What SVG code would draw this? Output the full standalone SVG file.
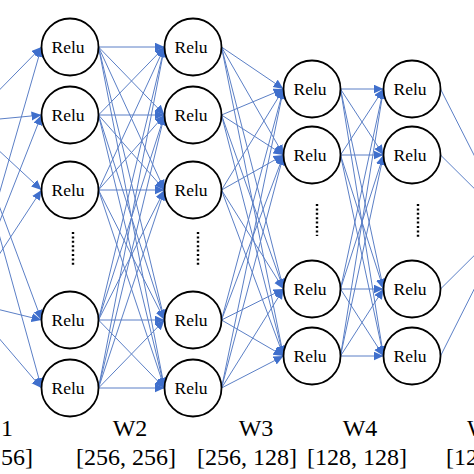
<svg xmlns="http://www.w3.org/2000/svg" width="474" height="474" viewBox="0 0 474 474">
<style>
.node circle{fill:#fff;stroke:#000;stroke-width:1.8}
.conn line{stroke:#5b7fc6;stroke-width:1}
.arr{marker-end:url(#ah)}
.dots line{stroke:#000;stroke-width:2.4;stroke-dasharray:2 2.4}
</style>
<defs>
<marker id="ah" markerUnits="userSpaceOnUse" markerWidth="12" markerHeight="10" refX="10" refY="4.5" orient="auto">
<path d="M0,0 L10,4.5 L0,9 Z" fill="#3f6fcc"/>
</marker>
</defs>
<rect width="474" height="474" fill="#fff"/>
<g id="connectors" class="conn">
<line class="arr" x1="-32" y1="122" x2="41.5" y2="47"/>
<line class="arr" x1="-32" y1="122" x2="41.5" y2="115"/>
<line class="arr" x1="-32" y1="122" x2="41.5" y2="190"/>
<line class="arr" x1="-32" y1="122" x2="41.5" y2="320"/>
<line class="arr" x1="-32" y1="122" x2="41.5" y2="388"/>
<line class="arr" x1="-32" y1="302" x2="41.5" y2="47"/>
<line class="arr" x1="-32" y1="302" x2="41.5" y2="115"/>
<line class="arr" x1="-32" y1="302" x2="41.5" y2="190"/>
<line class="arr" x1="-32" y1="302" x2="41.5" y2="320"/>
<line class="arr" x1="-32" y1="302" x2="41.5" y2="388"/>
<line class="arr" x1="98.5" y1="47" x2="164.5" y2="47"/>
<line class="arr" x1="98.5" y1="47" x2="164.5" y2="115"/>
<line class="arr" x1="98.5" y1="47" x2="164.5" y2="190"/>
<line class="arr" x1="98.5" y1="47" x2="164.5" y2="320"/>
<line class="arr" x1="98.5" y1="47" x2="164.5" y2="388"/>
<line class="arr" x1="98.5" y1="115" x2="164.5" y2="47"/>
<line class="arr" x1="98.5" y1="115" x2="164.5" y2="115"/>
<line class="arr" x1="98.5" y1="115" x2="164.5" y2="190"/>
<line class="arr" x1="98.5" y1="115" x2="164.5" y2="320"/>
<line class="arr" x1="98.5" y1="115" x2="164.5" y2="388"/>
<line class="arr" x1="98.5" y1="190" x2="164.5" y2="47"/>
<line class="arr" x1="98.5" y1="190" x2="164.5" y2="115"/>
<line class="arr" x1="98.5" y1="190" x2="164.5" y2="190"/>
<line class="arr" x1="98.5" y1="190" x2="164.5" y2="320"/>
<line class="arr" x1="98.5" y1="190" x2="164.5" y2="388"/>
<line class="arr" x1="98.5" y1="320" x2="164.5" y2="47"/>
<line class="arr" x1="98.5" y1="320" x2="164.5" y2="115"/>
<line class="arr" x1="98.5" y1="320" x2="164.5" y2="190"/>
<line class="arr" x1="98.5" y1="320" x2="164.5" y2="320"/>
<line class="arr" x1="98.5" y1="320" x2="164.5" y2="388"/>
<line class="arr" x1="98.5" y1="388" x2="164.5" y2="47"/>
<line class="arr" x1="98.5" y1="388" x2="164.5" y2="115"/>
<line class="arr" x1="98.5" y1="388" x2="164.5" y2="190"/>
<line class="arr" x1="98.5" y1="388" x2="164.5" y2="320"/>
<line class="arr" x1="98.5" y1="388" x2="164.5" y2="388"/>
<line class="arr" x1="221.5" y1="47" x2="283.5" y2="89"/>
<line class="arr" x1="221.5" y1="47" x2="283.5" y2="155"/>
<line class="arr" x1="221.5" y1="47" x2="283.5" y2="289"/>
<line class="arr" x1="221.5" y1="47" x2="283.5" y2="356"/>
<line class="arr" x1="221.5" y1="115" x2="283.5" y2="89"/>
<line class="arr" x1="221.5" y1="115" x2="283.5" y2="155"/>
<line class="arr" x1="221.5" y1="115" x2="283.5" y2="289"/>
<line class="arr" x1="221.5" y1="115" x2="283.5" y2="356"/>
<line class="arr" x1="221.5" y1="190" x2="283.5" y2="89"/>
<line class="arr" x1="221.5" y1="190" x2="283.5" y2="155"/>
<line class="arr" x1="221.5" y1="190" x2="283.5" y2="289"/>
<line class="arr" x1="221.5" y1="190" x2="283.5" y2="356"/>
<line class="arr" x1="221.5" y1="320" x2="283.5" y2="89"/>
<line class="arr" x1="221.5" y1="320" x2="283.5" y2="155"/>
<line class="arr" x1="221.5" y1="320" x2="283.5" y2="289"/>
<line class="arr" x1="221.5" y1="320" x2="283.5" y2="356"/>
<line class="arr" x1="221.5" y1="388" x2="283.5" y2="89"/>
<line class="arr" x1="221.5" y1="388" x2="283.5" y2="155"/>
<line class="arr" x1="221.5" y1="388" x2="283.5" y2="289"/>
<line class="arr" x1="221.5" y1="388" x2="283.5" y2="356"/>
<line class="arr" x1="340.5" y1="89" x2="383.5" y2="89"/>
<line class="arr" x1="340.5" y1="89" x2="383.5" y2="155"/>
<line class="arr" x1="340.5" y1="89" x2="383.5" y2="289"/>
<line class="arr" x1="340.5" y1="89" x2="383.5" y2="356"/>
<line class="arr" x1="340.5" y1="155" x2="383.5" y2="89"/>
<line class="arr" x1="340.5" y1="155" x2="383.5" y2="155"/>
<line class="arr" x1="340.5" y1="155" x2="383.5" y2="289"/>
<line class="arr" x1="340.5" y1="155" x2="383.5" y2="356"/>
<line class="arr" x1="340.5" y1="289" x2="383.5" y2="89"/>
<line class="arr" x1="340.5" y1="289" x2="383.5" y2="155"/>
<line class="arr" x1="340.5" y1="289" x2="383.5" y2="289"/>
<line class="arr" x1="340.5" y1="289" x2="383.5" y2="356"/>
<line class="arr" x1="340.5" y1="356" x2="383.5" y2="89"/>
<line class="arr" x1="340.5" y1="356" x2="383.5" y2="155"/>
<line class="arr" x1="340.5" y1="356" x2="383.5" y2="289"/>
<line class="arr" x1="340.5" y1="356" x2="383.5" y2="356"/>
<line x1="440.5" y1="89" x2="508" y2="222"/>
<line x1="440.5" y1="155" x2="508" y2="222"/>
<line x1="440.5" y1="289" x2="508" y2="222"/>
<line x1="440.5" y1="356" x2="508" y2="222"/>
</g>
<g font-family="'Liberation Serif', 'Times New Roman', serif" font-size="17.5" text-anchor="middle" fill="#000">
<g id="layer1">
<g id="n1_1" class="node"><circle cx="70" cy="47" r="28.5"/><text x="68" y="52.5">Relu</text></g>
<g id="n1_2" class="node"><circle cx="70" cy="115" r="28.5"/><text x="68" y="120.5">Relu</text></g>
<g id="n1_3" class="node"><circle cx="70" cy="190" r="28.5"/><text x="68" y="195.5">Relu</text></g>
<g id="n1_4" class="node"><circle cx="70" cy="320" r="28.5"/><text x="68" y="325.5">Relu</text></g>
<g id="n1_5" class="node"><circle cx="70" cy="388" r="28.5"/><text x="68" y="393.5">Relu</text></g>
</g>
<g id="layer2">
<g id="n2_1" class="node"><circle cx="193" cy="47" r="28.5"/><text x="191" y="52.5">Relu</text></g>
<g id="n2_2" class="node"><circle cx="193" cy="115" r="28.5"/><text x="191" y="120.5">Relu</text></g>
<g id="n2_3" class="node"><circle cx="193" cy="190" r="28.5"/><text x="191" y="195.5">Relu</text></g>
<g id="n2_4" class="node"><circle cx="193" cy="320" r="28.5"/><text x="191" y="325.5">Relu</text></g>
<g id="n2_5" class="node"><circle cx="193" cy="388" r="28.5"/><text x="191" y="393.5">Relu</text></g>
</g>
<g id="layer3">
<g id="n3_1" class="node"><circle cx="312" cy="89" r="28.5"/><text x="310" y="94.5">Relu</text></g>
<g id="n3_2" class="node"><circle cx="312" cy="155" r="28.5"/><text x="310" y="160.5">Relu</text></g>
<g id="n3_3" class="node"><circle cx="312" cy="289" r="28.5"/><text x="310" y="294.5">Relu</text></g>
<g id="n3_4" class="node"><circle cx="312" cy="356" r="28.5"/><text x="310" y="361.5">Relu</text></g>
</g>
<g id="layer4">
<g id="n4_1" class="node"><circle cx="412" cy="89" r="28.5"/><text x="410" y="94.5">Relu</text></g>
<g id="n4_2" class="node"><circle cx="412" cy="155" r="28.5"/><text x="410" y="160.5">Relu</text></g>
<g id="n4_3" class="node"><circle cx="412" cy="289" r="28.5"/><text x="410" y="294.5">Relu</text></g>
<g id="n4_4" class="node"><circle cx="412" cy="356" r="28.5"/><text x="410" y="361.5">Relu</text></g>
</g>
</g>
<g id="ellipses" class="dots">
<line x1="73" y1="232" x2="73" y2="265"/>
<line x1="198" y1="232" x2="198" y2="265"/>
<line x1="317" y1="204" x2="317" y2="236"/>
<line x1="418" y1="204" x2="418" y2="238"/>
</g>
<g id="labels" font-family="'Liberation Serif', 'Times New Roman', serif" font-size="24" fill="#000">
<text x="13" y="436" text-anchor="end">1</text>
<text x="130" y="436" text-anchor="middle">W2</text>
<text x="256" y="436" text-anchor="middle">W3</text>
<text x="360" y="436" text-anchor="middle">W4</text>
<text x="467" y="436">W</text>
<text x="33" y="465" text-anchor="end">56]</text>
<text x="76" y="465">[256, 256]</text>
<text x="197" y="465">[256, 128]</text>
<text x="307" y="465">[128, 128]</text>
<text x="446" y="465">[12</text>
</g>
</svg>
